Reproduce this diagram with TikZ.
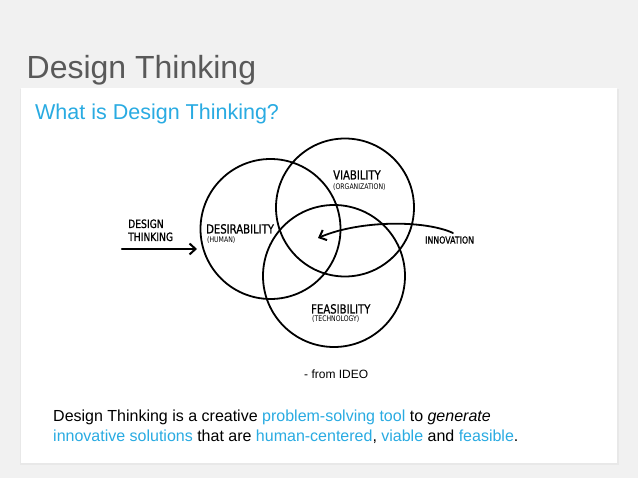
\documentclass[tikz,border=0pt]{standalone}
\usepackage{fontspec}
\setmainfont{Liberation Sans}
\newfontfamily\handfont[FakeStretch=0.8,FakeBold=0.8]{DejaVu Sans}
\newfontfamily\handthin[FakeStretch=0.8]{DejaVu Sans}
\usetikzlibrary{arrows.meta}
\definecolor{bgcol}{RGB}{241,241,241}
\definecolor{titlecol}{RGB}{89,89,89}
\definecolor{cy}{RGB}{41,171,226}
\definecolor{shadowcol}{RGB}{232,232,232}
\tikzset{
  txt/.style={inner sep=0pt, anchor=base west},
  ring/.style={draw=black, line width=1.8pt},
  handbig/.style={txt, font=\handfont\fontsize{12.6}{14}\selectfont},
  handsmall/.style={txt, font=\handthin\fontsize{7.7}{9}\selectfont},
  sketcharrow/.style={draw=black, line width=2.2pt, line cap=round, -{Straight Barb[length=6pt,width=11pt,line width=2pt]}}
}
\begin{document}
\begin{tikzpicture}[x=1pt,y=-1pt]
\useasboundingbox (0,0) rectangle (638,478);
\fill[bgcol] (0,0) rectangle (638,478);
% panel
\fill[shadowcol] (20,89) rectangle (619,465);
\fill[white] (21,88) rectangle (617,463);
% titles
\node[txt, text=titlecol, font=\fontsize{32}{38}\selectfont] (title) at (26.5,79) {Design Thinking};
\node[txt, text=cy, font=\fontsize{21.5}{26}\selectfont] (subtitle) at (35,120) {What is Design Thinking?};
% circles
\node[ring, circle, minimum size=140pt, inner sep=0pt] (des) at (270.5,229) {};
\node[ring, circle, minimum size=138pt, inner sep=0pt] (via) at (345,207.5) {};
\node[ring, circle, minimum size=142pt, inner sep=0pt] (fea) at (334,276) {};
% labels
\node[handbig] (desl) at (206,233.5) {DESIRABILITY};
\node[handsmall] (desh) at (207,243) {(HUMAN)};
\node[handbig] (vial) at (333,179.5) {VIABILITY};
\node[handsmall] (viao) at (333,190) {(ORGANIZATION)};
\node[handbig] (feal) at (311,313.5) {FEASIBILITY};
\node[handsmall] (feat) at (312,322) {(TECHNOLOGY)};
\node[txt, font=\handfont\fontsize{11.5}{13}\selectfont] (dt1) at (128,228) {DESIGN};
\node[txt, font=\handfont\fontsize{11.5}{13}\selectfont] (dt2) at (128,241) {THINKING};
\node[txt, font=\handfont\fontsize{9.8}{11}\selectfont] (inno) at (425,243.6) {INNOVATION};
% arrows
\coordinate (dtstart) at (122,249);
\coordinate (dtend) at (197,249);
\draw[sketcharrow] (dtstart) -- (dtend);
\coordinate (instart) at (453,233);
\coordinate (inend) at (318,238);
\draw[sketcharrow, line width=1.8pt] (instart) .. controls (425,220) and (360,220) .. (inend);
% bottom text
\node[txt, font=\fontsize{12}{14}\selectfont] (ideo) at (304,379) {- from IDEO};
\node[txt, font=\fontsize{16}{19}\selectfont] (line1) at (53,422) {Design Thinking is a creative \textcolor{cy}{problem-solving tool} to \textit{generate}};
\node[txt, font=\fontsize{16}{19}\selectfont] (line2) at (53,442) {\textcolor{cy}{innovative solutions} that are \textcolor{cy}{human-centered}, \textcolor{cy}{viable} and \textcolor{cy}{feasible}.};
\end{tikzpicture}
\end{document}
